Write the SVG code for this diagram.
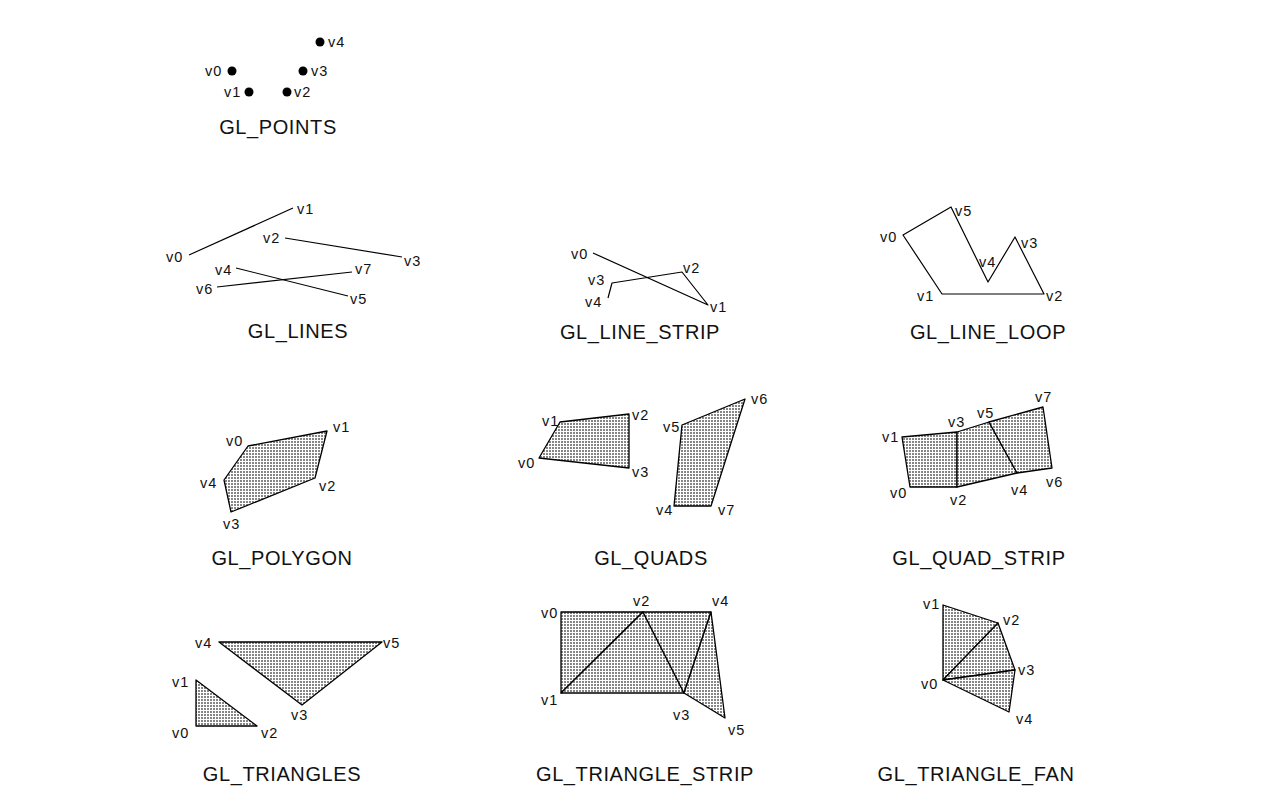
<svg xmlns="http://www.w3.org/2000/svg" width="1268" height="786" viewBox="0 0 1268 786">
<defs>
<pattern id="stip" patternUnits="userSpaceOnUse" width="3" height="3">
<rect width="3" height="3" fill="#ffffff"/>
<rect width="2" height="2" fill="#858585"/>
</pattern>
<style>
.t{font-family:"Liberation Sans",Arial,sans-serif;font-size:20px;letter-spacing:0.6px;fill:#111;text-anchor:middle}
.v{font-family:"Liberation Sans",Arial,sans-serif;font-size:14.5px;letter-spacing:1px;fill:#111}
.ln{fill:none;stroke:#000;stroke-width:1.2;stroke-linejoin:round}
.sh{fill:url(#stip);stroke:#000;stroke-width:1.3;stroke-linejoin:round}
.dot{fill:#000}
</style>
</defs>
<rect width="1268" height="786" fill="#ffffff"/>

<g id="gl_points">
<circle class="dot" cx="232" cy="71" r="4.5"/>
<circle class="dot" cx="249" cy="92" r="4.5"/>
<circle class="dot" cx="287" cy="92" r="4.5"/>
<circle class="dot" cx="303" cy="71" r="4.5"/>
<circle class="dot" cx="320" cy="42" r="4.5"/>
<text class="v" x="205" y="76">v0</text>
<text class="v" x="224" y="97">v1</text>
<text class="v" x="294" y="97">v2</text>
<text class="v" x="311" y="76">v3</text>
<text class="v" x="328" y="47">v4</text>
<text class="t" x="278" y="134">GL_POINTS</text>
</g>

<g id="gl_lines">
<g class="connectors">
<line class="ln" x1="189" y1="255" x2="293" y2="208"/>
<line class="ln" x1="285" y1="238" x2="402" y2="257"/>
<line class="ln" x1="236" y1="268" x2="348" y2="296"/>
<line class="ln" x1="217" y1="287" x2="352" y2="272"/>
</g>
<text class="v" x="166" y="262">v0</text>
<text class="v" x="297" y="214">v1</text>
<text class="v" x="263" y="243">v2</text>
<text class="v" x="404" y="266">v3</text>
<text class="v" x="215" y="275">v4</text>
<text class="v" x="350" y="304">v5</text>
<text class="v" x="196" y="294">v6</text>
<text class="v" x="355" y="274">v7</text>
<text class="t" x="298" y="338">GL_LINES</text>
</g>

<g id="gl_line_strip">
<polyline class="ln" points="593,253 708,305 682,272 612,283 608,298"/>
<text class="v" x="571" y="259">v0</text>
<text class="v" x="710" y="312">v1</text>
<text class="v" x="683" y="273">v2</text>
<text class="v" x="588" y="285">v3</text>
<text class="v" x="585" y="307">v4</text>
<text class="t" x="640" y="339">GL_LINE_STRIP</text>
</g>

<g id="gl_line_loop">
<polygon class="ln" points="903,235 942,294 1044,294 1015,237 988,282 951,207"/>
<text class="v" x="880" y="242">v0</text>
<text class="v" x="917" y="301">v1</text>
<text class="v" x="1046" y="301">v2</text>
<text class="v" x="1021" y="248">v3</text>
<text class="v" x="979" y="267">v4</text>
<text class="v" x="955" y="216">v5</text>
<text class="t" x="988" y="339">GL_LINE_LOOP</text>
</g>

<g id="gl_polygon">
<polygon class="sh" points="248,446 327,431 315,478 231,512 224,480"/>
<text class="v" x="226" y="446">v0</text>
<text class="v" x="333" y="432">v1</text>
<text class="v" x="319" y="491">v2</text>
<text class="v" x="223" y="529">v3</text>
<text class="v" x="200" y="488">v4</text>
<text class="t" x="282" y="565">GL_POLYGON</text>
</g>

<g id="gl_quads">
<polygon class="sh" points="539,458 560,422 629,414 629,468"/>
<polygon class="sh" points="674,506 682,425 745,399 711,506"/>
<text class="v" x="518" y="468">v0</text>
<text class="v" x="542" y="426">v1</text>
<text class="v" x="632" y="420">v2</text>
<text class="v" x="632" y="477">v3</text>
<text class="v" x="656" y="515">v4</text>
<text class="v" x="663" y="432">v5</text>
<text class="v" x="751" y="404">v6</text>
<text class="v" x="718" y="515">v7</text>
<text class="t" x="651" y="565">GL_QUADS</text>
</g>

<g id="gl_quad_strip">
<polygon class="sh" points="910,487 902,437 957,432 957,487"/>
<polygon class="sh" points="957,487 957,432 989,422 1017,473"/>
<polygon class="sh" points="1017,473 989,422 1043,407 1052,468"/>
<text class="v" x="890" y="498">v0</text>
<text class="v" x="882" y="442">v1</text>
<text class="v" x="950" y="505">v2</text>
<text class="v" x="948" y="427">v3</text>
<text class="v" x="1011" y="495">v4</text>
<text class="v" x="977" y="418">v5</text>
<text class="v" x="1046" y="487">v6</text>
<text class="v" x="1035" y="402">v7</text>
<text class="t" x="979" y="565">GL_QUAD_STRIP</text>
</g>

<g id="gl_triangles">
<polygon class="sh" points="196,726 196,680 257,726"/>
<polygon class="sh" points="302,705 219,642 382,642"/>
<text class="v" x="172" y="738">v0</text>
<text class="v" x="172" y="687">v1</text>
<text class="v" x="261" y="738">v2</text>
<text class="v" x="291" y="720">v3</text>
<text class="v" x="195" y="648">v4</text>
<text class="v" x="383" y="648">v5</text>
<text class="t" x="282" y="781">GL_TRIANGLES</text>
</g>

<g id="gl_triangle_strip">
<polygon class="sh" points="561,612 561,693 643,612"/>
<polygon class="sh" points="643,612 561,693 684,693"/>
<polygon class="sh" points="643,612 684,693 711,612"/>
<polygon class="sh" points="711,612 684,693 725,718"/>
<text class="v" x="541" y="618">v0</text>
<text class="v" x="541" y="705">v1</text>
<text class="v" x="633" y="606">v2</text>
<text class="v" x="673" y="720">v3</text>
<text class="v" x="712" y="606">v4</text>
<text class="v" x="728" y="735">v5</text>
<text class="t" x="645" y="781">GL_TRIANGLE_STRIP</text>
</g>

<g id="gl_triangle_fan">
<polygon class="sh" points="943,680 943,605 998,623"/>
<polygon class="sh" points="943,680 998,623 1015,670"/>
<polygon class="sh" points="943,680 1015,670 1009,712"/>
<text class="v" x="921" y="689">v0</text>
<text class="v" x="923" y="609">v1</text>
<text class="v" x="1003" y="625">v2</text>
<text class="v" x="1018" y="675">v3</text>
<text class="v" x="1016" y="724">v4</text>
<text class="t" x="976" y="781">GL_TRIANGLE_FAN</text>
</g>
</svg>
